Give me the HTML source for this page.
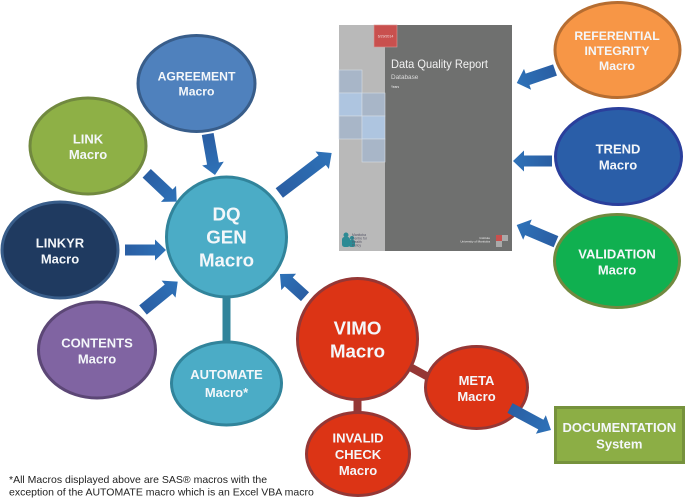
<!DOCTYPE html>
<html lang="en">
<head>
<meta charset="utf-8">
<title>DQ GEN Macro diagram</title>
<style>
html,body{margin:0;padding:0;background:#fff;width:685px;height:499px;overflow:hidden}
svg{display:block;filter:blur(.3px)}
text{font-family:"Liberation Sans",Arial,sans-serif}
.n text{font-weight:bold;fill:#f4f7fa;text-anchor:middle;font-size:13px}
.n ellipse,.n rect{stroke-width:3}
</style>
</head>
<body>
<svg width="685" height="499" viewBox="0 0 685 499" xmlns="http://www.w3.org/2000/svg">
<defs>
<linearGradient id="ag" x1="0" y1="0" x2="1" y2="0">
<stop offset="0" stop-color="#2a5ea3"/>
<stop offset="1" stop-color="#2e72b8"/>
</linearGradient>
</defs>

<!-- Report -->
<g>
<rect x="339" y="25" width="173" height="226" fill="#b9b9b9"/>
<rect x="385" y="25" width="127" height="226" fill="#6f706f"/>
<rect x="339" y="70" width="23" height="23" fill="#a8b6c8" stroke="#d5dde6" stroke-width=".6"/>
<rect x="339" y="93" width="23" height="23" fill="#aec5e0" stroke="#d5dde6" stroke-width=".6"/>
<rect x="362" y="93" width="23" height="23" fill="#a8b6c8" stroke="#d5dde6" stroke-width=".6"/>
<rect x="339" y="116" width="23" height="23" fill="#a8b6c8" stroke="#d5dde6" stroke-width=".6"/>
<rect x="362" y="116" width="23" height="23" fill="#aec5e0" stroke="#d5dde6" stroke-width=".6"/>
<rect x="362" y="139" width="23" height="23" fill="#a8b6c8" stroke="#d5dde6" stroke-width=".6"/>
<rect x="374" y="25" width="23" height="22" fill="#c9504e" stroke="#d99a98" stroke-width=".6"/>
<text x="385.5" y="37.5" font-size="3.5" fill="#f3dede" text-anchor="middle">6/29/2014</text>
<text x="391" y="68" font-size="12" fill="#f2f2f2" textLength="97" lengthAdjust="spacingAndGlyphs">Data Quality Report</text>
<text x="391" y="79" font-size="6.4" fill="#dcdcdc">Database</text>
<text x="391" y="88" font-size="3.2" fill="#eee">Years</text>
<g fill="#2d8a94">
<circle cx="346" cy="235" r="2.5"/><rect x="342" y="237" width="8" height="10" rx="2.5"/>
<circle cx="352" cy="238" r="2"/><rect x="349" y="240" width="6" height="7" rx="2"/>
</g>
<g font-size="3.4" fill="#556">
<text x="352" y="236">Manitoba</text><text x="352" y="239.5">Centre for</text><text x="352" y="243">Health</text><text x="352" y="246.5">Policy</text>
</g>
<g font-size="3" fill="#eee" text-anchor="end">
<text x="490" y="239">Institute</text><text x="490" y="242.5">University of Manitoba</text>
</g>
<rect x="496" y="235" width="6" height="6" fill="#c9504e"/>
<rect x="502" y="235" width="6" height="6" fill="#a9a9a9"/>
<rect x="496" y="241" width="6" height="6" fill="#a9a9a9"/>
</g>

<!-- Solid connectors -->
<line x1="226.5" y1="295" x2="226.5" y2="345" stroke="#31849b" stroke-width="8"/>
<line x1="410" y1="367" x2="432" y2="379" stroke="#953735" stroke-width="8"/>
<line x1="357.5" y1="398" x2="357.5" y2="414" stroke="#953735" stroke-width="8"/>

<!-- Nodes -->
<g class="n">
<ellipse cx="196.5" cy="83.5" rx="58.5" ry="48" fill="#4f81bd" stroke="#385d8a"/>
<text x="196.5" y="80.7" style="font-size:12.2px">AGREEMENT</text>
<text x="196.5" y="95.3" style="font-size:12.2px">Macro</text>

<ellipse cx="88" cy="146" rx="58" ry="48" fill="#8eb046" stroke="#71893f"/>
<text x="88" y="143.3">LINK</text>
<text x="88" y="159">Macro</text>

<ellipse cx="60" cy="250" rx="58" ry="48" fill="#1f3a60" stroke="#385d8a"/>
<text x="60" y="247.7">LINKYR</text>
<text x="60" y="263.3">Macro</text>

<ellipse cx="226.5" cy="237" rx="60" ry="60" fill="#4bacc6" stroke="#31849b"/>
<text x="226.5" y="220.7" style="font-size:18.7px">DQ</text>
<text x="226.5" y="243.7" style="font-size:18.7px">GEN</text>
<text x="226.5" y="266.7" style="font-size:18.7px">Macro</text>

<ellipse cx="97" cy="350" rx="58.5" ry="48" fill="#8064a2" stroke="#5c4776"/>
<text x="97" y="347.3">CONTENTS</text>
<text x="97" y="363.3">Macro</text>

<ellipse cx="226.5" cy="383.5" rx="55" ry="41.5" fill="#4bacc6" stroke="#31849b"/>
<text x="226.5" y="379">AUTOMATE</text>
<text x="226.5" y="397">Macro*</text>

<ellipse cx="357.5" cy="339" rx="60" ry="60.5" fill="#dc3415" stroke="#953735"/>
<text x="357.5" y="334.3" style="font-size:18.7px">VIMO</text>
<text x="357.5" y="357.7" style="font-size:18.7px">Macro</text>

<ellipse cx="476.5" cy="387.5" rx="51" ry="41" fill="#dc3415" stroke="#953735"/>
<text x="476.5" y="385">META</text>
<text x="476.5" y="401">Macro</text>

<ellipse cx="358" cy="454" rx="51.5" ry="41.5" fill="#dc3415" stroke="#953735"/>
<text x="358" y="442.7">INVALID</text>
<text x="358" y="459">CHECK</text>
<text x="358" y="475">Macro</text>

<ellipse cx="617.5" cy="50" rx="62.5" ry="47.5" fill="#f79646" stroke="#b66d31"/>
<text x="617" y="40" style="font-size:12.2px">REFERENTIAL</text>
<text x="617" y="55" style="font-size:12.2px">INTEGRITY</text>
<text x="617" y="70" style="font-size:12.2px">Macro</text>

<ellipse cx="618.5" cy="156.5" rx="63" ry="48" fill="#2a5ea8" stroke="#2a3f9c"/>
<text x="618" y="153.3">TREND</text>
<text x="618" y="169.3">Macro</text>

<ellipse cx="617" cy="261" rx="62.5" ry="46.5" fill="#10b050" stroke="#71893f"/>
<text x="617" y="258.7">VALIDATION</text>
<text x="617" y="274.7">Macro</text>

<rect x="555.5" y="407.5" width="128" height="55" fill="#8cae45" stroke="#76923c"/>
<text x="619.3" y="432">DOCUMENTATION</text>
<text x="619.3" y="448.3">System</text>
</g>

<!-- Block arrows -->
<g fill="url(#ag)">
<path transform="translate(207.7 134) rotate(79.9)" d="M0-6H30V-11L41.6 0 30 11V6H0Z"/>
<path transform="translate(146.7 173.3) rotate(43.4)" d="M0-6H30V-11L41.3 0 30 11V6H0Z"/>
<path transform="translate(125 250) rotate(0)" d="M0-5.5H30V-10.5L41 0 30 10.5V5.5H0Z"/>
<path transform="translate(143 310) rotate(-39.2)" d="M0-6H33V-11L44.8 0 33 11V6H0Z"/>
<path transform="translate(279.3 193) rotate(-37.4)" d="M0-6H54V-11L65.9 0 54 11V6H0Z"/>
<path transform="translate(305 296.7) rotate(222.2)" d="M0-6H22V-11L33.8 0 22 11V6H0Z"/>
<path transform="translate(555 70) rotate(161.2)" d="M0-6H29V-11L40.4 0 29 11V6H0Z"/>
<path transform="translate(552 161) rotate(180)" d="M0-5.5H28V-10.5L39 0 28 10.5V5.5H0Z"/>
<path transform="translate(556 241.7) rotate(203)" d="M0-6H31V-11L42.7 0 31 11V6H0Z"/>
<path transform="translate(510 408) rotate(28.2)" d="M0-5.5H35V-10.5L46.5 0 35 10.5V5.5H0Z"/>
</g>

<!-- Footnote -->
<text x="9" y="483" font-size="10.5" fill="#222">*All Macros displayed above are SAS® macros with the</text>
<text x="9" y="495.6" font-size="10.5" fill="#222">exception of the AUTOMATE macro which is an Excel VBA macro</text>
</svg>
</body>
</html>
